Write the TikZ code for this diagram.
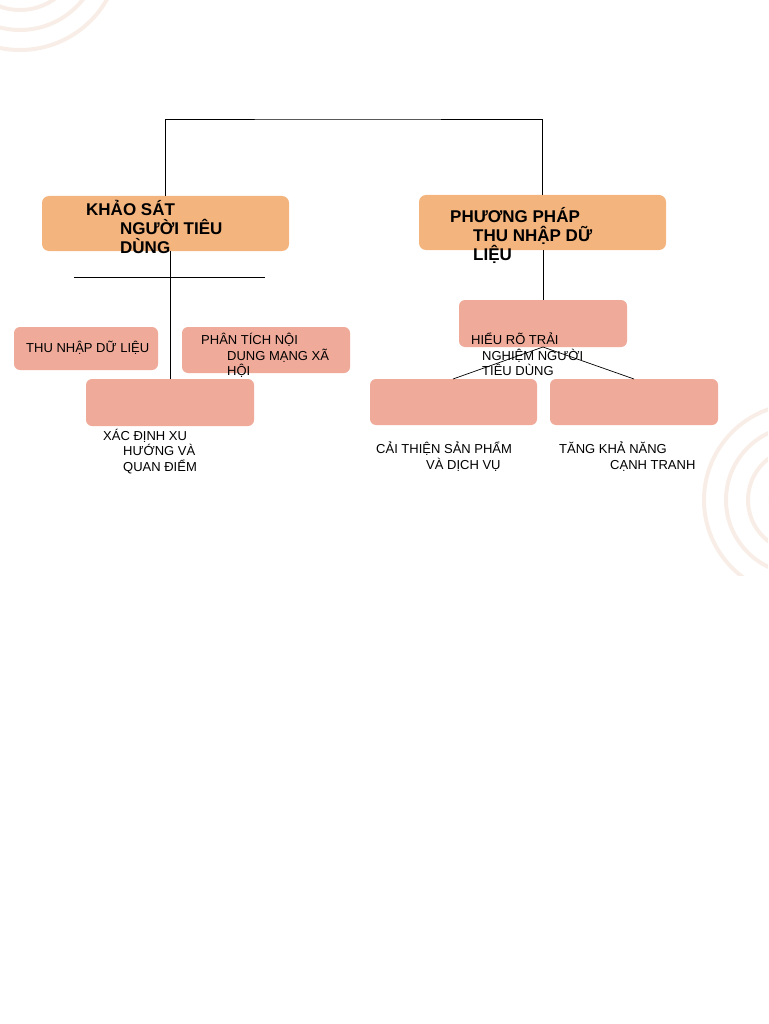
\documentclass[tikz,border=0pt]{standalone}
\usepackage{fontspec}
\setmainfont{Liberation Sans}
\begin{document}
\definecolor{org}{HTML}{F4B47E}
\definecolor{sal}{HTML}{F0AA9A}
\definecolor{arc}{HTML}{F8EEE7}
\begin{tikzpicture}[x=1pt,y=-1pt,
  big/.style={draw=none,fill=org,rounded corners=7pt},
  box/.style={draw=none,fill=sal,rounded corners=6pt},
  tb/.style={font=\fontsize{17}{19}\selectfont\bfseries,anchor=north west,align=left,inner sep=0},
  tx/.style={font=\fontsize{13}{15.5}\selectfont,anchor=north west,align=left,inner sep=0},
  ln/.style={draw=black,line width=0.7pt}]
\useasboundingbox (0,0) rectangle (768,1024);
\begin{scope}
\clip (0,0) rectangle (768,575);
\foreach \r in {40,60,80,100}{\draw[arc,line width=4pt] (20,-50) circle (\r);}
\foreach \r in {30,52,74,96}{\draw[arc,line width=4pt] (800,500) circle (\r);}
\end{scope}
% boxes
\path[big] (42,196) rectangle (289,251) coordinate (Aend);
\coordinate (A) at (165,196); \coordinate (Ab) at (170,251);
\path[big] (419,195) rectangle (666,250);
\coordinate (B) at (542,195); \coordinate (Bb) at (543,250);
\path[box] (14,327) rectangle (158,370);
\path[box] (182,327) rectangle (350,373);
\path[box] (86,379) rectangle (254,426);
\coordinate (X) at (170,379);
\path[box] (459,300) rectangle (627,347);
\coordinate (H) at (543,300); \coordinate (Hb) at (543,347);
\path[box] (370,379) rectangle (537,425);
\coordinate (C) at (453,379);
\path[box] (550,379) rectangle (718,425);
\coordinate (T) at (634,379);
% connectors
\draw[ln] (A) |- (342,119) -| (B);
\draw[ln] (Ab) -- (X);
\coordinate (L1) at (74,277); \coordinate (L2) at (265,277);
\draw[ln] (L1) -- (L2);
\draw[ln] (Bb) -- (H);
\draw[ln] (Hb) -- (C);
\draw[ln] (Hb) -- (T);
% texts
\node[tb] (ta) at (86,200) {KHẢO SÁT\\\hspace*{34pt}NGƯỜI TIÊU\\\hspace*{34pt}DÙNG};
\node[tb] (tbb) at (450,207) {PHƯƠNG PHÁP\\\hspace*{23pt}THU NHẬP DỮ\\\hspace*{23pt}LIỆU};
\node[tx] (t1) at (26,341) {THU NHẬP DỮ LIỆU};
\node[tx] (t2) at (201,333) {PHÂN TÍCH NỘI\\\hspace*{26pt}DUNG MẠNG XÃ\\\hspace*{26pt}HỘI};
\node[tx] (t3) at (103,429) {XÁC ĐỊNH XU\\\hspace*{20pt}HƯỚNG VÀ\\\hspace*{20pt}QUAN ĐIỂM};
\node[tx] (t4) at (471,333) {HIỂU RÕ TRẢI\\\hspace*{11pt}NGHIỆM NGƯỜI\\\hspace*{11pt}TIÊU DÙNG};
\node[tx] (t5) at (376,442) {CẢI THIỆN SẢN PHẨM\\\hspace*{50pt}VÀ DỊCH VỤ};
\node[tx] (t6) at (559,442) {TĂNG KHẢ NĂNG\\\hspace*{51pt}CẠNH TRANH};
\end{tikzpicture}
\end{document}
